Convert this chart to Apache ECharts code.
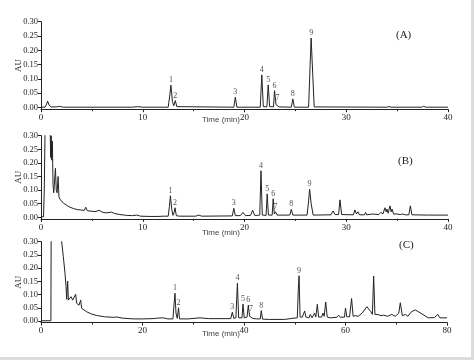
<!DOCTYPE html>
<html><head><meta charset="utf-8">
<script src="https://cdn.jsdelivr.net/npm/echarts@6/dist/echarts.min.js"></script>
<style>html,body{margin:0;padding:0;background:#fff}#c{width:474px;height:360px}</style>
</head><body><div id="c"></div>
<script>
// ---- data (time in min, absorbance in AU) ----
const traceA = [[0,0.001],[0.4,0.001],[0.55,0.012],[0.65,0.022],[0.8,0.008],[1.0,0.002],[1.5,0.002],[1.8,0.004],[2.2,0.001],[9.0,0.001],[9.5,0.003],[10.0,0.001],[12.5,0.001],[12.65,0.04],[12.77,0.078],[12.92,0.02],[13.05,0.006],[13.2,0.024],[13.35,0.003],[13.5,0.001],[18.95,0.001],[19.1,0.036],[19.25,0.001],[21.55,0.001],[21.7,0.114],[21.85,0.003],[22.2,0.002],[22.33,0.079],[22.47,0.003],[22.85,0.002],[22.95,0.059],[23.1,0.01],[23.25,0.015],[23.4,0.002],[24.6,0.001],[24.75,0.030],[24.9,0.001],[26.3,0.001],[26.45,0.15],[26.55,0.243],[26.7,0.12],[26.85,0.002],[34,0.001],[34.2,0.003],[34.4,0.001],[37.4,0.001],[37.6,0.004],[37.8,0.001],[40,0.001]];
const traceB = [[0,0.002],[0.25,0.002],[0.32,0.1],[0.4,0.32],[0.9,0.32],[0.95,0.22],[1.0,0.3],[1.05,0.21],[1.12,0.28],[1.18,0.12],[1.25,0.09],[1.32,0.095],[1.42,0.18],[1.5,0.1],[1.58,0.09],[1.68,0.15],[1.76,0.075],[1.9,0.065],[2.05,0.058],[2.2,0.052],[2.35,0.048],[2.6,0.042],[2.85,0.037],[3.2,0.032],[3.6,0.028],[3.9,0.027],[4.25,0.025],[4.4,0.037],[4.55,0.024],[5.0,0.022],[5.4,0.021],[5.7,0.026],[6.0,0.019],[6.4,0.016],[6.9,0.019],[7.3,0.013],[7.75,0.010],[8.4,0.007],[9.0,0.006],[9.4,0.008],[9.8,0.004],[10.7,0.003],[11.5,0.003],[12.0,0.004],[12.5,0.004],[12.62,0.04],[12.72,0.079],[12.85,0.03],[12.97,0.007],[13.1,0.02],[13.17,0.035],[13.3,0.006],[13.6,0.004],[15.2,0.004],[15.5,0.008],[15.8,0.004],[18.8,0.005],[18.95,0.033],[19.1,0.006],[19.6,0.006],[19.85,0.018],[20.1,0.006],[20.6,0.007],[20.8,0.026],[21.0,0.007],[21.15,0.012],[21.3,0.007],[21.5,0.008],[21.62,0.171],[21.75,0.008],[22.12,0.007],[22.23,0.086],[22.35,0.008],[22.72,0.008],[22.82,0.068],[22.93,0.012],[23.05,0.02],[23.2,0.008],[24.45,0.008],[24.6,0.029],[24.75,0.008],[26.15,0.008],[26.3,0.06],[26.4,0.103],[26.55,0.05],[26.75,0.008],[28.5,0.009],[28.7,0.023],[28.9,0.01],[29.25,0.01],[29.38,0.064],[29.55,0.01],[30.7,0.009],[30.85,0.027],[31.0,0.012],[31.15,0.02],[31.3,0.009],[31.8,0.009],[31.9,0.018],[32.0,0.009],[32.6,0.012],[33.2,0.01],[33.4,0.018],[33.6,0.012],[33.8,0.035],[33.92,0.02],[34.0,0.03],[34.12,0.015],[34.3,0.042],[34.42,0.02],[34.5,0.03],[34.65,0.012],[35.0,0.012],[35.3,0.01],[35.55,0.012],[35.8,0.009],[36.15,0.009],[36.3,0.042],[36.45,0.009],[38,0.008],[40,0.008]];
const traceC = [[0,0.001],[1.95,0.001],[2.0,0.32],[4.0,0.32],[4.07,0.30],[4.4,0.243],[4.73,0.18],[4.93,0.13],[5.06,0.082],[5.25,0.151],[5.39,0.079],[5.71,0.086],[5.91,0.092],[6.24,0.079],[6.5,0.084],[6.83,0.101],[7.03,0.067],[7.49,0.06],[7.82,0.079],[8.01,0.048],[9.0,0.035],[10.0,0.026],[10.97,0.021],[11.3,0.024],[11.6,0.019],[12.5,0.016],[14.25,0.014],[15.0,0.015],[16,0.011],[18.2,0.008],[20.0,0.008],[22.1,0.009],[23.0,0.011],[24.1,0.012],[25.0,0.008],[26.0,0.008],[26.2,0.06],[26.4,0.105],[26.6,0.03],[26.85,0.01],[27.1,0.05],[27.3,0.008],[29,0.008],[31.3,0.012],[33,0.009],[37.4,0.009],[37.7,0.033],[38.0,0.01],[38.4,0.012],[38.7,0.143],[38.95,0.012],[39.6,0.012],[39.8,0.064],[40.05,0.012],[40.6,0.015],[40.85,0.06],[41.1,0.018],[41.4,0.025],[41.7,0.01],[42.5,0.008],[43.2,0.008],[43.4,0.039],[43.65,0.007],[45,0.006],[48,0.006],[49.5,0.01],[50.5,0.012],[50.7,0.12],[50.85,0.171],[51.05,0.015],[51.5,0.015],[51.95,0.038],[52.2,0.015],[52.55,0.02],[52.8,0.012],[53.07,0.025],[53.4,0.012],[53.9,0.03],[54.15,0.015],[54.45,0.063],[54.7,0.015],[55.05,0.02],[55.3,0.015],[55.57,0.03],[55.8,0.018],[56.1,0.072],[56.4,0.015],[57.0,0.012],[58.3,0.014],[58.65,0.022],[59,0.014],[59.8,0.015],[60.0,0.049],[60.25,0.016],[60.5,0.018],[60.8,0.016],[61.2,0.085],[61.5,0.018],[61.9,0.02],[62.5,0.018],[63.3,0.03],[64.2,0.054],[65.0,0.035],[65.3,0.025],[65.55,0.17],[65.8,0.025],[66.5,0.024],[67.0,0.02],[67.5,0.022],[68.3,0.018],[69.1,0.025],[69.8,0.018],[70.5,0.03],[70.8,0.069],[71.2,0.02],[71.8,0.025],[72.3,0.018],[73.0,0.035],[73.75,0.042],[74.8,0.03],[76.3,0.012],[77.5,0.013],[78.2,0.025],[78.6,0.012],[80,0.012]];

const peakNames = ['1','2','3','4','5','6','7','8','9'];
const peakTimesA = [12.77,13.2,19.1,21.7,22.33,22.95,23.25,24.75,26.55];
const peakHeightsA = [0.078,0.024,0.036,0.114,0.079,0.059,0.015,0.030,0.243];
const peakTimesB = [12.72,13.17,18.95,21.62,22.23,22.82,23.05,24.6,26.4];
const peakHeightsB = [0.079,0.035,0.033,0.171,0.086,0.068,0.02,0.029,0.103];
const peakTimesC = [26.4,27.1,37.7,38.7,39.8,40.85,41.4,43.4,50.85];
const peakHeightsC = [0.105,0.05,0.033,0.143,0.064,0.06,0.025,0.039,0.171];

const yTicks = [0,0.05,0.10,0.15,0.20,0.25,0.30];
const xMaxs = [40,40,80];
const xIntervals = [10,10,20];
const panelNames = ['(A)','(B)','(C)'];
const yName = 'AU';
const xName = 'Time (min)';

// ---- layout ----
const grids = [
  {left:41, width:407, top:21.7, height:87.5},
  {left:41, width:407, top:135.7, height:83.2},
  {left:41, width:406, top:241.7, height:80.9}
];
const serif = '"Liberation Serif", "DejaVu Serif", serif';
const ink = '#222';

const traces = [traceA, traceB, traceC];
const pT = [peakTimesA, peakTimesB, peakTimesC];
const pH = [peakHeightsA, peakHeightsB, peakHeightsC];

const xAxis = [], yAxis = [], series = [];
for (let i = 0; i < 3; i++) {
  xAxis.push({
    type:'value', gridIndex:i, min:0, max:xMaxs[i], interval:xIntervals[i],
    axisLine:{show:true, onZero:false, lineStyle:{color:ink, width:1}},
    axisTick:{show:true, length:3, lineStyle:{color:ink}},
    minorTick:{show:true, splitNumber:2, length:2, lineStyle:{color:ink}},
    splitLine:{show:false},
    axisLabel:{fontFamily:serif, fontSize:9, color:ink, margin:4}
  });
  yAxis.push({
    type:'value', gridIndex:i, min:-0.006, max:0.30,
    name:yName, nameLocation:'middle', nameGap:18, nameRotate:90, nameMoveOverlap:false,
    nameTextStyle:{fontFamily:serif, fontSize:9, color:ink},
    axisLine:{show:true, lineStyle:{color:ink, width:1}},
    axisTick:{show:true, length:3, customValues:yTicks, lineStyle:{color:ink}},
    axisLabel:{fontFamily:serif, fontSize:8.5, color:ink, margin:3, customValues:yTicks,
      formatter:v=>v.toFixed(2)},
    splitLine:{show:false}
  });
  series.push({
    type:'line', xAxisIndex:i, yAxisIndex:i, data:traces[i], showSymbol:false,
    symbol:'none', clip:true, lineStyle:{color:ink, width:1}, silent:true, animation:false
  });
  series.push({
    type:'scatter', xAxisIndex:i, yAxisIndex:i, symbolSize:0, silent:true, animation:false,
    data: pT[i].map((t,k)=>({value:[t, pH[i][k]], name:peakNames[k]})),
    label:{show:true, position:'top', distance:1, formatter:p=>p.name,
      fontFamily:serif, fontSize:8, color:ink}
  });
}

const chart = echarts.init(document.getElementById('c'), null, {renderer:'canvas'});
chart.setOption({
  backgroundColor:'#fff',
  animation:false,
  grid: grids,
  xAxis, yAxis, series,
  graphic:[
    {type:'text', left:396, top:30, style:{text:panelNames[0], font:'11px '+serif, fill:ink}},
    {type:'text', left:398, top:156, style:{text:panelNames[1], font:'11px '+serif, fill:ink}},
    {type:'text', left:399, top:240, style:{text:panelNames[2], font:'11px '+serif, fill:ink}},
    {type:'text', left:202, top:116, style:{text:xName, font:'8px "Liberation Sans", sans-serif', fill:'#444'}},
    {type:'text', left:202, top:229, style:{text:xName, font:'8px "Liberation Sans", sans-serif', fill:'#444'}},
    {type:'text', left:202, top:330, style:{text:xName, font:'8px "Liberation Sans", sans-serif', fill:'#444'}},
    {type:'rect', shape:{x:471, y:0, width:3, height:360}, style:{fill:'#dcdcdc'}},
    {type:'rect', shape:{x:0, y:357, width:474, height:3}, style:{fill:'#dcdcdc'}}
  ]
});
</script></body></html>
